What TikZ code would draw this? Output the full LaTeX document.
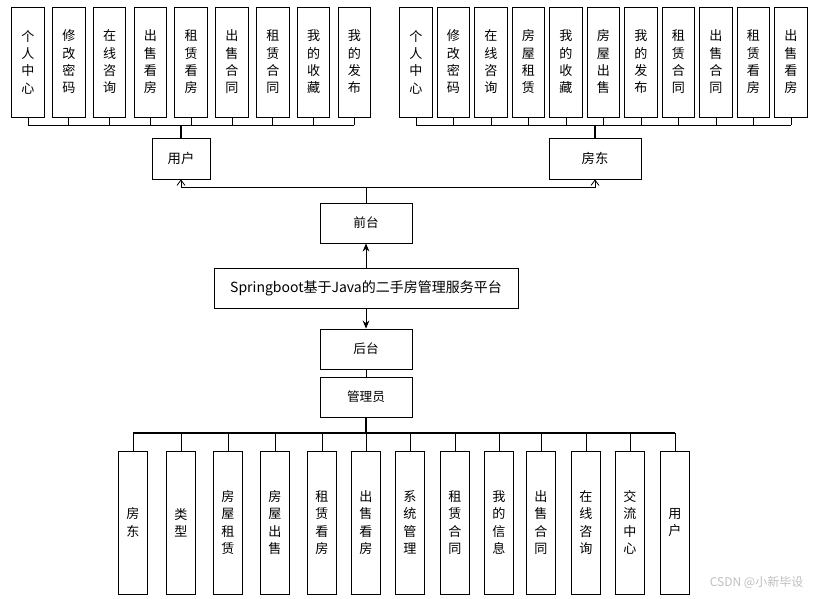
\documentclass[tikz,border=0pt]{standalone}
\usepackage{fontspec}
\setmainfont{Noto Sans CJK SC}
\usetikzlibrary{arrows.meta}
\begin{document}
\begin{tikzpicture}[x=0.75pt,y=-0.75pt,
 box/.style={draw,line width=0.7pt,fill=white,inner sep=0pt,align=center,font=\fontsize{9.8}{13}\selectfont},
 ln/.style={draw,line width=0.6pt},
 arr/.style={ln,-{Stealth[length=6pt,width=5pt]}},
 oarr/.style={ln,-{Straight Barb[length=4pt,width=6pt]}},
 hdr/.style={box,font=\fontsize{9.5}{12}\selectfont}]
\useasboundingbox (0,0) rectangle (817,599);
% top left
\foreach \i/\t in {0/个\\人\\中\\心,1/修\\改\\密\\码,2/在\\线\\咨\\询,3/出\\售\\看\\房,4/租\\赁\\看\\房,5/出\\售\\合\\同,6/租\\赁\\合\\同,7/我\\的\\收\\藏,8/我\\的\\发\\布}{
 \node[box,minimum width=32.5*0.75pt,minimum height=110*0.75pt] (L\i) at ({28+\i*40.8},62) {\t};
 \draw[ln] (L\i.south) -- ++(0,8);
}
\draw[ln] (L0.south)++(0,8) -- ++(326.4,0);
\node[box,minimum width=58*0.75pt,minimum height=41*0.75pt,font=\fontsize{10}{12}\selectfont] (U) at (181,158.5) {用户};
\draw[line width=1.2pt] (181,125) -- (U.north);
% top right
\foreach \i/\t in {0/个\\人\\中\\心,1/修\\改\\密\\码,2/在\\线\\咨\\询,3/房\\屋\\租\\赁,4/我\\的\\收\\藏,5/房\\屋\\出\\售,6/我\\的\\发\\布,7/租\\赁\\合\\同,8/出\\售\\合\\同,9/租\\赁\\看\\房,10/出\\售\\看\\房}{
 \node[box,minimum width=32.5*0.75pt,minimum height=110*0.75pt] (R\i) at ({416+\i*37.5},62) {\t};
 \draw[ln] (R\i.south) -- ++(0,8);
}
\draw[ln] (R0.south)++(0,8) -- ++(375,0);
\node[box,minimum width=92*0.75pt,minimum height=41*0.75pt,font=\fontsize{10}{12}\selectfont] (F) at (595,158.5) {房东};
\draw[line width=1.2pt] (595,125) -- (F.north);
% middle
\node[hdr,minimum width=92*0.75pt,minimum height=40*0.75pt] (Q) at (366,223) {前台};
\node[box,minimum width=304*0.75pt,minimum height=40*0.75pt,font=\fontsize{10.5}{12}\selectfont] (M) at (366,288) {Springboot基于Java的二手房管理服务平台};
\node[hdr,minimum width=92*0.75pt,minimum height=40*0.75pt] (H) at (366,349) {后台};
\node[hdr,minimum width=92*0.75pt,minimum height=40*0.75pt] (A) at (366,397) {管理员};
\coordinate (j) at (366,187);
\draw[oarr] (j) -| (U.south);
\draw[oarr] (j) -| (F.south);
\draw[ln] (Q.north) -- (j);
\draw[arr] (M.north) -- (Q.south);
\draw[arr] (M.south) -- (H.north);
\draw[ln] (H.south) -- (A.north);
% bottom
\draw[line width=1pt] (A.south) -- (366,433);
\foreach \i/\x/\t in {0/133/房\\东,1/181/类\\型,2/228/房\\屋\\租\\赁,3/275/房\\屋\\出\\售,4/322/租\\赁\\看\\房,5/366/出\\售\\看\\房,6/410/系\\统\\管\\理,7/455/租\\赁\\合\\同,8/499/我\\的\\信\\息,9/541/出\\售\\合\\同,10/586/在\\线\\咨\\询,11/630/交\\流\\中\\心,12/675/用\\户}{
 \node[box,minimum width=29*0.75pt,minimum height=143*0.75pt] (B\i) at (\x,522.5) {\t};
 \draw[ln] (B\i.north) -- ++(0,-18);
}
\draw[line width=1pt] (133,433) -- (675,433);
\node[font=\fontsize{9}{10}\selectfont,text=gray!50,anchor=east] (wm) at (808,582) {CSDN @小新毕设};
\end{tikzpicture}
\end{document}
